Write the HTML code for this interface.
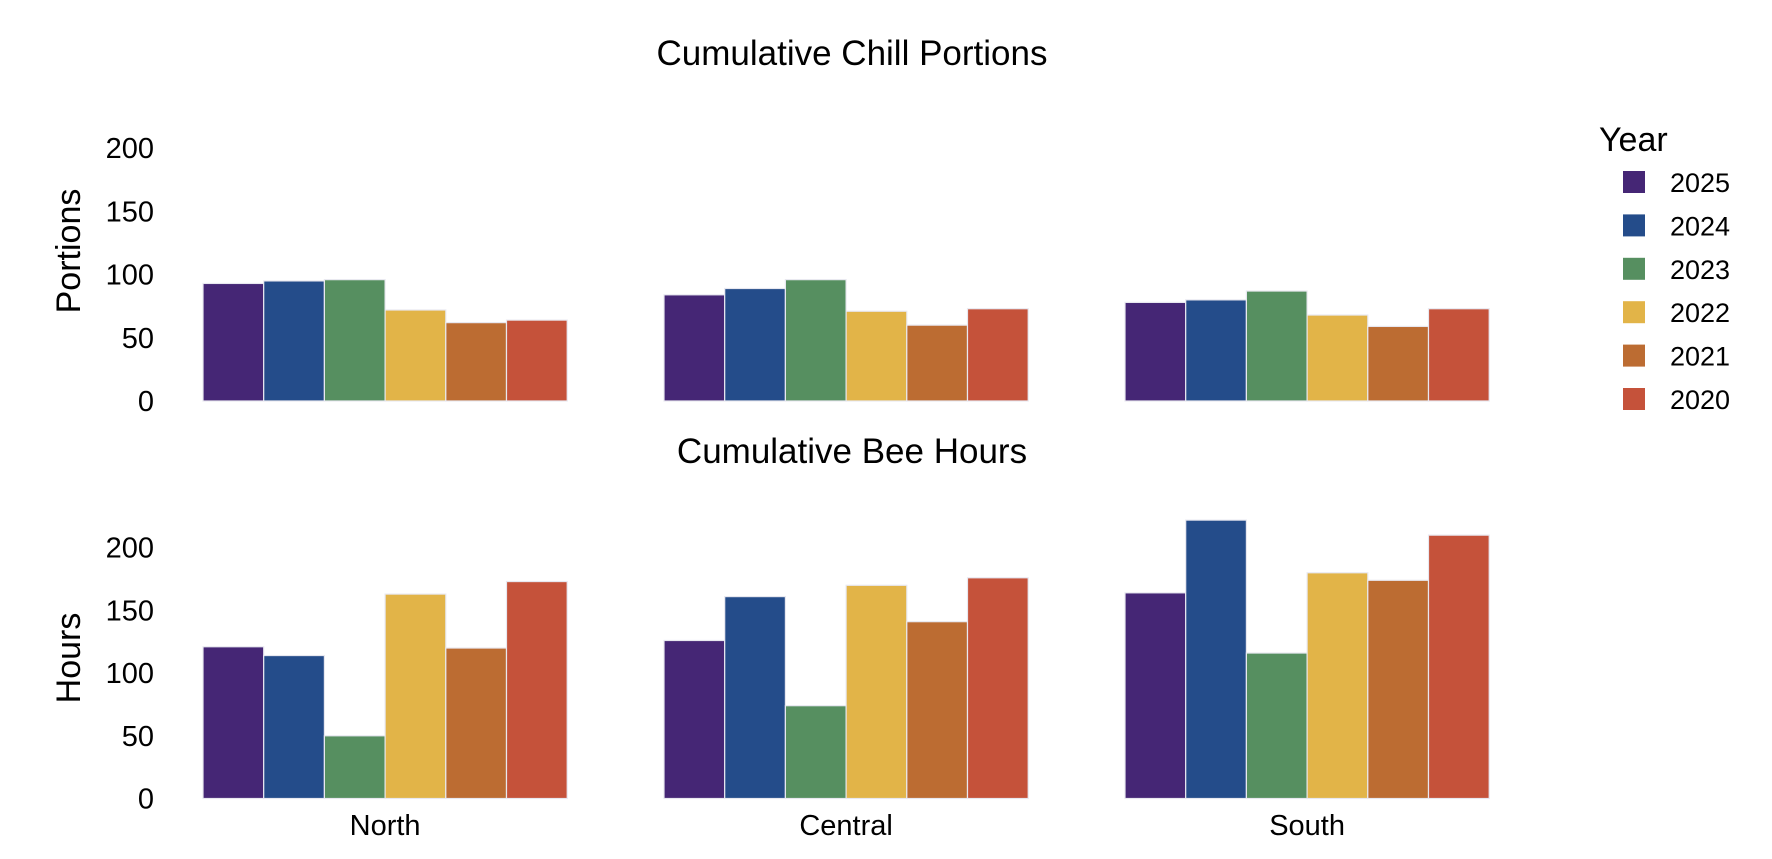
<!DOCTYPE html>
<html><head><meta charset="utf-8"><style>
body{margin:0;background:#fff;}
svg text{font-family:"Liberation Sans",sans-serif;fill:#000;}
</style></head><body>
<svg id="chart" width="1772" height="854"></svg>
<script>
const regions=["North","Central","South"];
const years=["2025","2024","2023","2022","2021","2020"];
const colors=["#452675","#244c8a","#568f60","#e2b448","#bc6c32","#c5523a"];
const chillNorth=[93,95,96,72,62,64];
const chillCentral=[84,89,96,71,60,73];
const chillSouth=[78,80,87,68,59,73];
const beeNorth=[121,114,50,163,120,173];
const beeCentral=[126,161,74,170,141,176];
const beeSouth=[164,222,116,180,174,210];
const yTicks=[0,50,100,150,200];
const svg=document.getElementById('chart');
const NS='http://www.w3.org/2000/svg';
function mk(tag,attrs,parent){const e=document.createElementNS(NS,tag);for(const k in attrs)e.setAttribute(k,attrs[k]);(parent||svg).appendChild(e);return e;}
const groupStart=[203,664,1125], barW=60.7;
function xBar(g,i){return groupStart[g]+i*barW;}
function panel(name,title,titleY,yLabel,yLabelX,yLabelY,y0,pxPer50,data){
  const g=mk('g',{});
  
  
  const y=v=>y0-v*pxPer50/50;
  const t=mk('text',{x:852,y:titleY,'font-size':35,'text-anchor':'middle'},g);t.textContent=title;
  
  
  const yl=mk('text',{x:yLabelX,y:yLabelY,'font-size':34,'text-anchor':'middle',transform:`rotate(-90 ${yLabelX} ${yLabelY})`},g);yl.textContent=yLabel;
  
  
  yTicks.forEach(v=>{const tk=mk('text',{x:154,y:y(v)+10,'font-size':29,'text-anchor':'end'},g);tk.textContent=v;
    
    });
  data.forEach((arr,gi)=>arr.forEach((v,i)=>{
    const r=mk('rect',{x:xBar(gi,i),y:y(v),width:barW,height:y(0)-y(v),fill:colors[i],stroke:'#e8e8f0','stroke-width':1.2},g);
    
    
  }));
}
panel('chill','Cumulative Chill Portions',65,'Portions',80,251,401,63.2,[chillNorth,chillCentral,chillSouth]);
panel('bee','Cumulative Bee Hours',463,'Hours',80,658,798.5,62.7,[beeNorth,beeCentral,beeSouth]);
regions.forEach((r,gi)=>{const t=mk('text',{x:groupStart[gi]+3*barW,y:835,'font-size':29,'text-anchor':'middle'});t.textContent=r;
  
  });
const lt=mk('text',{x:1599,y:151,'font-size':34});lt.textContent='Year';


years.forEach((yr,i)=>{const cy=182+i*43.4;
  const s=mk('rect',{x:1623,y:cy-11,width:22,height:22,fill:colors[i]});
  
  
  const t=mk('text',{x:1670,y:cy+10,'font-size':27});t.textContent=yr;
  
  });
</script>
</body></html>
